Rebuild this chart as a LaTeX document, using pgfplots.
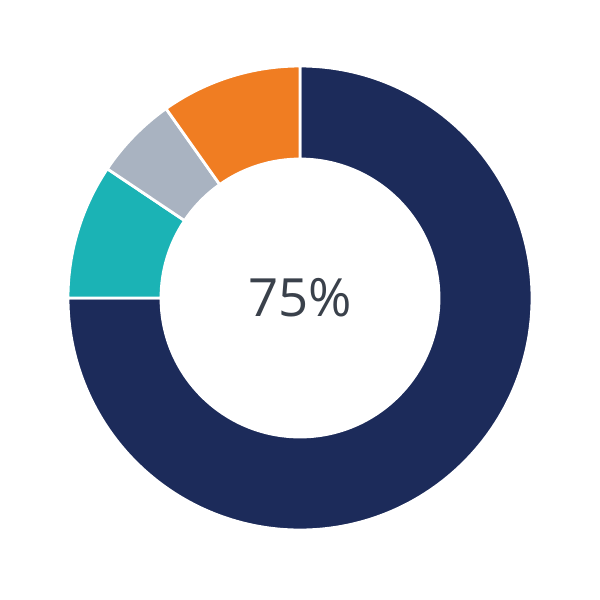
\documentclass[border=0pt]{standalone}
\usepackage{pgfplots}
\pgfplotsset{compat=1.18}
\usepackage{pgfplotstable}
\usepackage{fontspec}
\setmainfont{Open Sans}
\definecolor{navy}{HTML}{1C2B5A}
\definecolor{tealc}{HTML}{1BB3B5}
\definecolor{grayc}{HTML}{A9B3C1}
\definecolor{orangec}{HTML}{F07D22}
\definecolor{txt}{HTML}{3A414B}

% share of each ring segment, clockwise from the top
\pgfplotstableread{
value color
75   navy
9.4  tealc
5.8  grayc
9.8  orangec
}\donut

\begin{document}
\begin{tikzpicture}
\fill[white] (0,0) rectangle (6,5.99);
\begin{axis}[at={(0,0)}, anchor=south west, x=1cm, y=1cm,
  xmin=-3, xmax=3, ymin=-3.01, ymax=2.98,
  hide axis, clip=false]
  \pgfplotstablegetrowsof{\donut}
  \pgfmathtruncatemacro\N{\pgfplotsretval-1}
  \def\start{90}
  \pgfplotsforeachungrouped \i in {0,...,\N}{
    \pgfplotstablegetelem{\i}{value}\of\donut \let\val\pgfplotsretval
    \pgfplotstablegetelem{\i}{color}\of\donut \let\col\pgfplotsretval
    \pgfmathsetmacro\stop{\start-3.6*\val}
    \edef\temp{\noexpand\filldraw[fill=\col, draw=white, line width=0.8pt, line join=miter]
      (axis cs:0,0) ++(\start:2.32cm) arc[start angle=\start, end angle=\stop, radius=2.32cm]
      -- ++(\stop:-0.93cm) arc[start angle=\stop, end angle=\start, radius=1.39cm] -- cycle;}
    \temp
    \let\start\stop
  }
  \node[text=txt, font=\fontsize{15}{18}\selectfont] at (axis cs:0,0) {75\%};
\end{axis}
\end{tikzpicture}
\end{document}
